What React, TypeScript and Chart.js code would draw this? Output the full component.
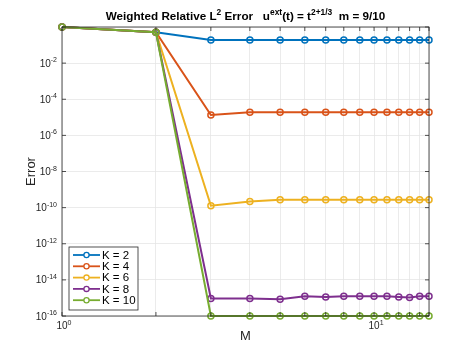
import { useEffect, useRef } from "react";
import { Chart, registerables } from "chart.js";
Chart.register(...registerables);

const M_VALUES = [1, 2, 3, 4, 5, 6, 7, 8, 9, 10, 11, 12, 13, 14, 15];
const K2 = [1, 0.51, 0.19, 0.19, 0.19, 0.19, 0.19, 0.19, 0.19, 0.19, 0.19, 0.19, 0.19, 0.19, 0.19];
const K4 = [1, 0.51, 1.35e-5, 1.9e-5, 1.9e-5, 1.9e-5, 1.9e-5, 1.9e-5, 1.9e-5, 1.9e-5, 1.9e-5, 1.9e-5, 1.9e-5, 1.9e-5, 1.9e-5];
const K6 = [1, 0.51, 1.28e-10, 2.2e-10, 2.75e-10, 2.75e-10, 2.75e-10, 2.75e-10, 2.75e-10, 2.75e-10, 2.75e-10, 2.75e-10, 2.75e-10, 2.75e-10, 2.75e-10];
const K8 = [1, 0.51, 9.4e-16, 9.4e-16, 8.5e-16, 1.23e-15, 1.12e-15, 1.23e-15, 1.23e-15, 1.23e-15, 1.23e-15, 1.12e-15, 1.05e-15, 1.23e-15, 1.23e-15];
const K10 = [1, 0.51, 1e-16, 1e-16, 1e-16, 1e-16, 1e-16, 1e-16, 1e-16, 1e-16, 1e-16, 1e-16, 1e-16, 1e-16, 1e-16];

const SERIES_LABELS = ["K = 2", "K = 4", "K = 6", "K = 8", "K = 10"];
const SERIES_DATA = [K2, K4, K6, K8, K10];
const SERIES_COLORS = ["#0072BD", "#D95319", "#EDB120", "#7E2F8E", "#77AC30"];

const X_GRID = [1, 2, 3, 4, 5, 6, 7, 8, 9, 10, 11, 12, 13, 14, 15];
const X_LABEL_VALUES = [1, 10];
const X_LABEL_EXPS = ["0", "1"];
const Y_GRID = [1e-16, 1e-14, 1e-12, 1e-10, 1e-8, 1e-6, 1e-4, 1e-2, 1];
const Y_LABEL_VALUES = [1e-2, 1e-4, 1e-6, 1e-8, 1e-10, 1e-12, 1e-14, 1e-16];
const Y_LABEL_EXPS = ["-2", "-4", "-6", "-8", "-10", "-12", "-14", "-16"];

const FONT = '"Liberation Sans", Arial, Helvetica, sans-serif';
const AXIS_COLOR = "#262626";

type Part = { text: string; sup?: boolean };

function drawRich(ctx: CanvasRenderingContext2D, parts: Part[], x: number, y: number, align: string, size: number, weight: string, supScale = 0.7, supRise = 0.45) {
  let total = 0;
  const widths = parts.map((p) => {
    ctx.font = `${weight} ${p.sup ? size * supScale : size}px ${FONT}`;
    const w = ctx.measureText(p.text).width;
    total += w;
    return w;
  });
  let cx = align === "center" ? x - total / 2 : align === "right" ? x - total : x;
  ctx.textAlign = "left";
  ctx.textBaseline = "alphabetic";
  parts.forEach((p, i) => {
    ctx.font = `${weight} ${p.sup ? size * supScale : size}px ${FONT}`;
    ctx.fillText(p.text, cx, p.sup ? y - size * supRise : y);
    cx += widths[i];
  });
}

const decorPlugin = {
  id: "decor",
  afterDraw(chart: any) {
    const ctx: CanvasRenderingContext2D = chart.ctx;
    const { left, right, top, bottom } = chart.chartArea;
    const xs = chart.scales.x;
    const ys = chart.scales.y;
    ctx.save();
    ctx.strokeStyle = AXIS_COLOR;
    ctx.lineWidth = 0.8;
    ctx.strokeRect(left, top, right - left, bottom - top);
    ctx.beginPath();
    X_GRID.forEach((v) => {
      const px = xs.getPixelForValue(v);
      ctx.moveTo(px, bottom);
      ctx.lineTo(px, bottom - 4);
      ctx.moveTo(px, top);
      ctx.lineTo(px, top + 4);
    });
    Y_GRID.forEach((v) => {
      const py = ys.getPixelForValue(v);
      ctx.moveTo(left, py);
      ctx.lineTo(left + 4, py);
      ctx.moveTo(right, py);
      ctx.lineTo(right - 4, py);
    });
    ctx.stroke();
    ctx.fillStyle = AXIS_COLOR;
    Y_LABEL_VALUES.forEach((v, i) => {
      const py = ys.getPixelForValue(v);
      drawRich(ctx, [{ text: "10" }, { text: Y_LABEL_EXPS[i], sup: true }], left - 5, py + 3.5, "right", 10, "normal", 0.7, 0.45);
    });
    X_LABEL_VALUES.forEach((v, i) => {
      const px = xs.getPixelForValue(v);
      drawRich(ctx, [{ text: "10" }, { text: X_LABEL_EXPS[i], sup: true }], px + 2, bottom + 13, "center", 10, "normal", 0.7, 0.45);
    });
    ctx.font = `13px ${FONT}`;
    ctx.textAlign = "center";
    ctx.textBaseline = "middle";
    ctx.fillText("M", (left + right) / 2, bottom + 20);
    ctx.save();
    ctx.translate(31, (top + bottom) / 2);
    ctx.rotate(-Math.PI / 2);
    ctx.fillText("Error", 0, 0);
    ctx.restore();
    ctx.fillStyle = "#000";
    drawRich(
      ctx,
      [
        { text: "Weighted Relative L" },
        { text: "2", sup: true },
        { text: " Error   u" },
        { text: "ext", sup: true },
        { text: "(t) = t" },
        { text: "2+1/3", sup: true },
        { text: "  m = 9/10" },
      ],
      (left + right) / 2,
      20,
      "center",
      11.7,
      "bold",
      0.72,
      0.42
    );
    const lx = left + 7;
    const ly = bottom - 69;
    const lw = 69;
    const lh = 63;
    ctx.fillStyle = "#fff";
    ctx.fillRect(lx, ly, lw, lh);
    ctx.strokeStyle = AXIS_COLOR;
    ctx.lineWidth = 0.8;
    ctx.strokeRect(lx, ly, lw, lh);
    SERIES_LABELS.forEach((lab, i) => {
      const cy = ly + 8 + i * 11.3;
      ctx.strokeStyle = SERIES_COLORS[i];
      ctx.lineWidth = 1.8;
      ctx.beginPath();
      ctx.moveTo(lx + 4, cy);
      ctx.lineTo(lx + 31, cy);
      ctx.stroke();
      ctx.lineWidth = 1.3;
      ctx.beginPath();
      ctx.arc(lx + 17.5, cy, 2.6, 0, Math.PI * 2);
      ctx.fillStyle = "#fff";
      ctx.fill();
      ctx.stroke();
      ctx.fillStyle = "#000";
      ctx.font = `11.5px ${FONT}`;
      ctx.textAlign = "left";
      ctx.textBaseline = "middle";
      ctx.fillText(lab, lx + 33, cy + 0.5);
    });
    ctx.restore();
  },
};

export default function App() {
  const ref = useRef<HTMLCanvasElement | null>(null);
  useEffect(() => {
    if (!ref.current) return;
    const chart = new Chart(ref.current, {
      type: "line",
      data: {
        labels: M_VALUES,
        datasets: SERIES_DATA.map((d, i) => ({
          label: SERIES_LABELS[i],
          data: M_VALUES.map((m, j) => ({ x: m, y: d[j] })),
          borderColor: SERIES_COLORS[i],
          backgroundColor: "rgba(0,0,0,0)",
          pointBackgroundColor: "rgba(0,0,0,0)",
          pointBorderColor: SERIES_COLORS[i],
          borderWidth: 2,
          pointRadius: 3,
          pointBorderWidth: 1.5,
          tension: 0,
          clip: false,
          order: SERIES_DATA.length - i,
        })),
      },
      options: {
        responsive: false,
        animation: false,
        layout: { padding: { left: 0, right: 45, top: 27, bottom: 0 } },
        plugins: { legend: { display: false }, tooltip: { enabled: false }, title: { display: false } },
        scales: {
          x: {
            type: "logarithmic",
            min: 1,
            max: 15,
            ticks: { display: false },
            grid: { color: "#e6e6e6", drawTicks: false, lineWidth: 0.8 },
            border: { display: false },
            afterBuildTicks: (s: any) => {
              s.ticks = X_GRID.map((v) => ({ value: v }));
            },
            afterFit: (s: any) => {
              s.height = 39;
            },
          },
          y: {
            type: "logarithmic",
            min: 1e-16,
            max: 1,
            ticks: { display: false },
            grid: { color: "#e6e6e6", drawTicks: false, lineWidth: 0.8 },
            border: { display: false },
            afterBuildTicks: (s: any) => {
              s.ticks = Y_GRID.map((v) => ({ value: v }));
            },
            afterFit: (s: any) => {
              s.width = 62;
            },
          },
        },
      } as any,
      plugins: [decorPlugin],
    });
    return () => chart.destroy();
  }, []);
  return (
    <div style={{ position: "fixed", left: 0, top: 0, width: 474, height: 355, background: "#fff" }}>
      <canvas ref={ref} width={474} height={355} />
    </div>
  );
}
